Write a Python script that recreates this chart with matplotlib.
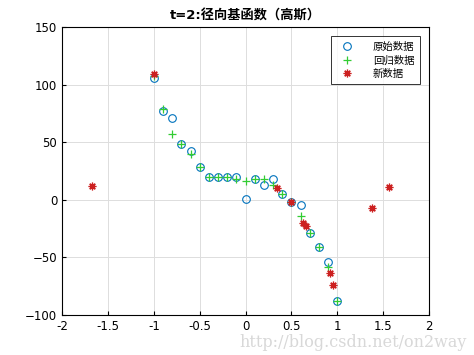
import numpy as np
import matplotlib
matplotlib.use("Agg")
import matplotlib.pyplot as plt

plt.rcParams['font.family'] = ['DejaVu Sans', 'Noto Sans CJK SC']

# original data (blue circles)
x_orig = [-1.0, -0.9, -0.8, -0.7, -0.6, -0.5, -0.4, -0.3, -0.2, -0.1, 0.0,
          0.1, 0.2, 0.3, 0.4, 0.5, 0.6, 0.7, 0.8, 0.9, 1.0]
y_orig = [106, 77, 71, 48, 42, 28, 20, 20, 20, 20, 1,
          18, 13, 18, 5, -2, -5, -29, -41, -54, -88]

# regression output (green plus)
y_fit = [107, 79, 57, 48, 40, 28, 20, 20, 20, 18, 16,
         18, 18, 13, 5, -2, -14, -29, -41, -58, -88]

# new data (red stars)
x_new = [-1.67, -1.0, 0.34, 0.5, 0.63, 0.66, 0.92, 0.95, 1.38, 1.56]
y_new = [12, 109, 10, -2, -20, -23, -64, -74, -7, 11]

x_ticks = [-2, -1.5, -1, -0.5, 0, 0.5, 1, 1.5, 2]
y_ticks = [-100, -50, 0, 50, 100, 150]

fig = plt.figure(figsize=(4.74, 3.55), dpi=100)
ax = fig.add_axes([0.131, 0.113, 0.774, 0.811])

ax.plot(x_orig, y_orig, 'o', mfc='none', mec=(0, 0.447, 0.741), ms=5.5, mew=0.8, label='原始数据')
ax.plot(x_orig, y_fit, '+', color='#33cc33', ms=6, mew=0.9, label='回归数据')
ax.plot(x_new, y_new, marker=(8, 2, 0), ls='none', color='#cc2020', ms=5.5, mew=0.9, label='新数据')

ax.set_xlim(-2, 2)
ax.set_ylim(-100, 150)
ax.set_xticks(x_ticks)
ax.set_xticklabels(['-2', '-1.5', '-1', '-0.5', '0', '0.5', '1', '1.5', '2'])
ax.set_yticks(y_ticks)
ax.tick_params(direction='in', labelsize=8.5, length=3)
ax.grid(True, color='#dddddd', lw=0.7)
ax.set_axisbelow(True)
for s in ax.spines.values():
    s.set_linewidth(0.8)

ax.set_title('t=2:径向基函数（高斯）', fontsize=9.5, fontweight='bold', pad=5)

leg = ax.legend(loc='upper right', fontsize=7.5, frameon=True, fancybox=False,
                edgecolor='black', borderaxespad=0.9, handletextpad=1.5,
                labelspacing=0.35, borderpad=0.5)
leg.get_frame().set_linewidth(0.7)

# blog watermark
fig.text(0.985, 0.035, 'http://blog.csdn.net/on2way', ha='right', va='center',
         fontsize=11.5, color='#d8d8d8', family='DejaVu Serif')

plt.savefig('out.png', dpi=100)
